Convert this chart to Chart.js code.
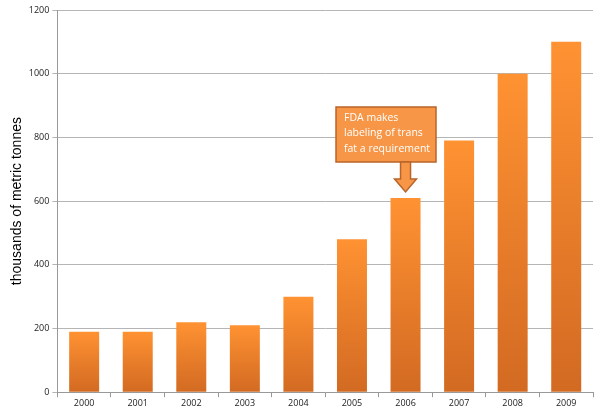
<!DOCTYPE html>
<html>
<head>
<meta charset="utf-8">
<script src="https://cdn.jsdelivr.net/npm/chart.js@4"></script>
<style>
  html,body{margin:0;padding:0;background:#fff}
  #wrap{width:600px;height:415px}
</style>
</head>
<body>
<div id="wrap"><canvas id="chart" width="600" height="415"></canvas></div>
<script>
(function(){
  'use strict';

  /* ── Data ── */
  const years=['2000','2001','2002','2003','2004','2005','2006','2007','2008','2009'];
  const tonnes=[190,190,220,210,300,480,610,790,1000,1100];
  const yTicks=[0,200,400,600,800,1000,1200];
  const noteLines=['FDA makes','labeling of trans','fat a requirement'];
  const noteYear='2006';

  /* ── Per-bar vertical gradient ── */
  function barFill(ctx){
    const chart=ctx.chart, y=chart.scales.y;
    if(!chart.chartArea||!y||ctx.raw==null)return '#F08A2E';
    const top=y.getPixelForValue(ctx.raw), bot=y.getPixelForValue(0);
    if(!isFinite(top)||!isFinite(bot)||top===bot)return '#F08A2E';
    const g=chart.ctx.createLinearGradient(0,top,0,bot);
    g.addColorStop(0,'#FF9232');
    g.addColorStop(1,'#D26A22');
    return g;
  }

  /* ── Callout box + arrow ── */
  const callout={
    id:'callout',
    afterDatasetsDraw(chart){
      const c=chart.ctx, x=chart.scales.x, y=chart.scales.y;
      const i=years.indexOf(noteYear);
      const cx=x.getPixelForValue(i);
      const barTop=y.getPixelForValue(tonnes[i]);
      const bx=336, by=107, bw=100, bh=55;
      c.save();
      c.fillStyle='#F79646';
      c.strokeStyle='#B8642A';
      c.lineWidth=1.5;
      c.fillRect(bx,by,bw,bh);
      c.strokeRect(bx,by,bw,bh);
      /* arrow */
      const aTop=by+bh, aBot=barTop-6, sw=5, hw=11, hh=13;
      c.beginPath();
      c.moveTo(cx-sw,aTop);
      c.lineTo(cx+sw,aTop);
      c.lineTo(cx+sw,aBot-hh);
      c.lineTo(cx+hw,aBot-hh);
      c.lineTo(cx,aBot);
      c.lineTo(cx-hw,aBot-hh);
      c.lineTo(cx-sw,aBot-hh);
      c.closePath();
      c.fill();c.stroke();
      c.fillStyle='#fff';
      c.font='10.5px "Open Sans", sans-serif';
      c.textBaseline='middle';
      noteLines.forEach((t,k)=>c.fillText(t,bx+8,by+11+k*15.5));
      c.restore();
    }
  };

  new Chart(document.getElementById('chart'),{
    type:'bar',
    data:{labels:years,datasets:[{data:tonnes,backgroundColor:barFill,borderWidth:0,categoryPercentage:1,barPercentage:0.56}]},
    options:{
      responsive:false,animation:false,
      layout:{padding:{top:10,right:7,left:9,bottom:5}},
      plugins:{legend:{display:false},tooltip:{enabled:false}},
      scales:{
        x:{
          grid:{offset:true,drawOnChartArea:false,drawTicks:true,tickLength:5,color:'#999'},
          border:{color:'#999'},
          ticks:{color:'#222',font:{family:'Open Sans',size:9},padding:1,maxRotation:0}
        },
        y:{
          min:0,max:1200,
          afterBuildTicks:s=>{s.ticks=yTicks.map(v=>({value:v}))},
          grid:{color:'#B5B5B5',tickLength:5},
          border:{color:'#999'},
          ticks:{color:'#222',font:{family:'Open Sans',size:9},padding:3,callback:v=>String(v)},
          title:{display:true,text:'thousands of metric tonnes',color:'#000',font:{family:'Liberation Sans',size:14},padding:{top:0,bottom:0}}
        }
      }
    },
    plugins:[callout]
  });
})();
</script>
</body>
</html>
